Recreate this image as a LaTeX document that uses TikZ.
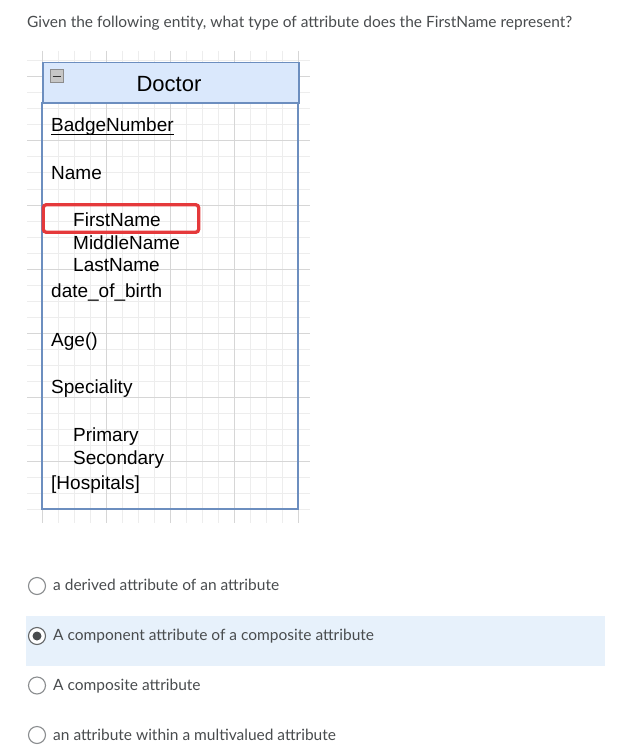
\documentclass[tikz,border=0pt]{standalone}
\usepackage{fontspec}
\setmainfont{Lato}
\newfontfamily\arialf{Liberation Sans}
\definecolor{qgray}{HTML}{494C4E}
\definecolor{gridminor}{HTML}{EDEDED}
\definecolor{gridmajor}{HTML}{D6D6D6}
\definecolor{hdrfill}{HTML}{DAE8FC}
\definecolor{hdrline}{HTML}{6C8EBF}
\definecolor{hilite}{HTML}{E5393B}
\definecolor{band}{HTML}{E7F1FB}
\definecolor{radioline}{HTML}{8A8D8F}
\begin{document}
\begin{tikzpicture}[x=1pt,y=-1pt,
  qtext/.style={anchor=base west, inner sep=0pt, font=\fontsize{15.5}{18}\selectfont, text=qgray},
  attr/.style={anchor=base west, inner sep=0pt, font=\arialf\fontsize{19}{22}\selectfont, text=black},
  radio/.style={circle, draw=radioline, fill=white, line width=1.1pt, minimum size=17pt, inner sep=0pt}]
\useasboundingbox (0,0) rectangle (621,754);
\fill[white] (0,0) rectangle (621,754);

% question
\node[qtext] (question) at (27,28) {Given the following entity, what type of attribute does the FirstName represent?};

% grid
\begin{scope}
\clip (27,51) rectangle (310,523);
\foreach \gx in {26,42,...,314} \draw[gridminor, line width=1pt] (\gx,51) -- (\gx,523);
\foreach \gy in {45,61,...,525} \draw[gridminor, line width=1pt] (27,\gy) -- (310,\gy);
\foreach \gx in {42,106,170,234,298} \draw[gridmajor, line width=1pt] (\gx,51) -- (\gx,523);
\foreach \gy in {77,141,205,269,333,397,461} \draw[gridmajor, line width=1pt] (27,\gy) -- (310,\gy);
\end{scope}

% entity box
\node[draw=hdrline, fill=hdrfill, line width=1.5pt, minimum width=256pt, minimum height=41pt, anchor=north west, inner sep=0pt] (header) at (42,62) {};
\draw[hdrline, line width=1.5pt] (42,103) rectangle (298,509);
\node[anchor=base, inner sep=0pt, font=\arialf\fontsize{22}{26}\selectfont] (title) at (169,91.5) {Doctor};
% collapse icon
\node[draw=gray!90, fill=gray!45, line width=1pt, minimum size=13pt, inner sep=0pt, anchor=north west] (collapse) at (49.5,69.5) {};
\draw[black!80, line width=1.5pt] ([xshift=3pt]collapse.west) -- ([xshift=-3pt]collapse.east);

% attributes
\node[attr] (badge) at (51,131.5) {BadgeNumber};
\draw[black, line width=1.3pt] ([yshift=-3pt]badge.base west) -- ([yshift=-3pt]badge.base east);
\node[attr] (name) at (51,179) {Name};
\node[attr] (first) at (73,226.5) {FirstName};
\node[attr] (middle) at (73,249) {MiddleName};
\node[attr] (last) at (73,271.5) {LastName};
\node[attr] (dob) at (51,297) {date\_of\_birth};
\node[attr] (age) at (51,346) {Age()};
\node[attr] (spec) at (51,393) {Speciality};
\node[attr] (prim) at (73,441.5) {Primary};
\node[attr] (sec) at (73,464) {Secondary};
\node[attr] (hosp) at (51,489) {[Hospitals]};

% highlight
\draw[hilite, line width=3.3pt, rounded corners=3pt] (43.3,204.7) rectangle (198.7,232.3);

% answers
\fill[band] (26,616) rectangle (605,666);
\node[radio] (r1) at (37,586) {};
\node[radio, draw=qgray!85] (r2) at (37,636) {};
\fill[qgray] (r2.center) circle (4.5pt);
\node[radio] (r3) at (37,685.5) {};
\node[radio] (r4) at (37,735) {};
\node[qtext] (a1) at (53,590.5) {a derived attribute of an attribute};
\node[qtext] (a2) at (53,640.5) {A component attribute of a composite attribute};
\node[qtext] (a3) at (53,690) {A composite attribute};
\node[qtext] (a4) at (53,740) {an attribute within a multivalued attribute};
\end{tikzpicture}
\end{document}
